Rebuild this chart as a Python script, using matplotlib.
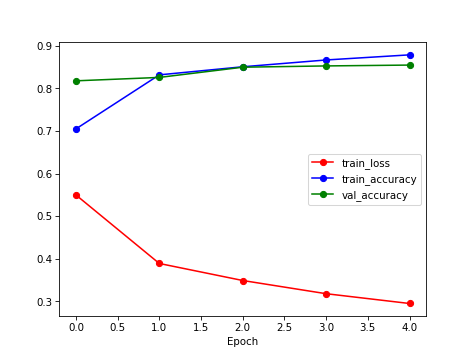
import matplotlib
matplotlib.use("Agg")
import matplotlib.pyplot as plt

epochs = [0, 1, 2, 3, 4]
train_loss = [0.550, 0.389, 0.349, 0.318, 0.295]
train_accuracy = [0.705, 0.832, 0.851, 0.867, 0.879]
val_accuracy = [0.818, 0.826, 0.850, 0.853, 0.855]

fig, ax = plt.subplots(figsize=(6.4, 4.8), dpi=74)
ax.plot(epochs, train_loss, "o-", color="red", label="train_loss")
ax.plot(epochs, train_accuracy, "o-", color="blue", label="train_accuracy")
ax.plot(epochs, val_accuracy, "o-", color="green", label="val_accuracy")
ax.set_xlabel("Epoch")
ax.legend(loc="center right")
fig.savefig("out.png", dpi=74)
